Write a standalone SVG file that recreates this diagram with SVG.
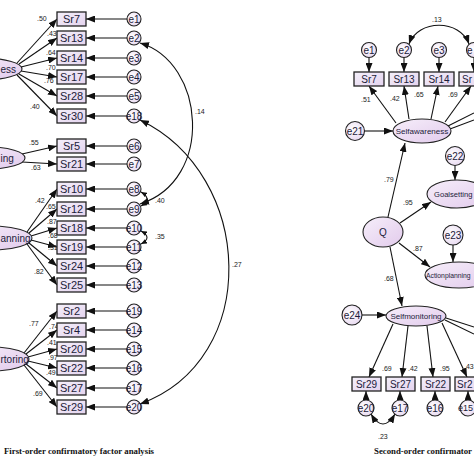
<svg xmlns="http://www.w3.org/2000/svg" width="474" height="474" viewBox="0 0 474 474">
<defs>
<linearGradient id="gBox" x1="0" y1="0" x2="1" y2="1"><stop offset="0" stop-color="#f4f0fa"/><stop offset="1" stop-color="#e4d3ee"/></linearGradient>
<linearGradient id="gLat" x1="0" y1="0" x2="1" y2="1"><stop offset="0" stop-color="#f6eefa"/><stop offset="1" stop-color="#e2cbec"/></linearGradient>
<radialGradient id="gErr" cx="0.4" cy="0.4" r="0.7"><stop offset="0" stop-color="#ffffff"/><stop offset="1" stop-color="#e6d6ef"/></radialGradient>
<marker id="ah" markerUnits="userSpaceOnUse" markerWidth="9" markerHeight="7" refX="9" refY="3.5" orient="auto-start-reverse"><path d="M0,0 L9,3.5 L0,7 z" fill="#111"/></marker>
<marker id="as" markerUnits="userSpaceOnUse" markerWidth="6" markerHeight="5" refX="6" refY="2.5" orient="auto-start-reverse"><path d="M0,0 L6,2.5 L0,5 z" fill="#111"/></marker>
</defs>
<style>
.box{fill:url(#gBox);stroke:#222;stroke-width:1.3}
.lat{fill:url(#gLat);stroke:#222;stroke-width:1.1}
.err{fill:url(#gErr);stroke:#222;stroke-width:1.1}
text{font-family:"Liberation Sans",Arial,sans-serif;fill:#1c1c3a}
.c{text-anchor:middle}
.bt{font-size:11px}
.rb{font-size:10px}
.et{font-size:10px}
.lt{font-size:10px}
.rl{font-size:8px}
.n{font-size:7px;fill:#222}
.cap{font-family:"Liberation Serif","Times New Roman",serif;font-weight:bold;font-size:9px;fill:#111}
.ln{stroke:#111;stroke-width:1.1;fill:none;marker-end:url(#ah)}
.pl{stroke:#111;stroke-width:1.1;fill:none}
.cv{stroke:#111;stroke-width:1.1;fill:none;marker-start:url(#ah);marker-end:url(#ah)}
.cs{stroke:#111;stroke-width:1.1;fill:none;marker-start:url(#as);marker-end:url(#as)}
</style>
<rect width="474" height="474" fill="#fff"/>

<g id="connectors">
<path class="ln" d="M17,63 L57,19"/>
<path class="ln" d="M19,64 L57,38"/>
<path class="ln" d="M21,67 L57,58"/>
<path class="ln" d="M21,71 L57,77"/>
<path class="ln" d="M19,74 L57,96"/>
<path class="ln" d="M17,75 L57,116"/>
<path class="ln" d="M22,154 L57,146"/>
<path class="ln" d="M22,162 L57,164"/>
<path class="ln" d="M27,232 L57,189"/>
<path class="ln" d="M29,233 L57,209"/>
<path class="ln" d="M31,236 L57,228"/>
<path class="ln" d="M31,240 L57,247"/>
<path class="ln" d="M29,243 L57,266"/>
<path class="ln" d="M27,244 L57,285"/>
<path class="ln" d="M24,353 L57,311"/>
<path class="ln" d="M26,354 L57,330"/>
<path class="ln" d="M28,357 L57,349"/>
<path class="ln" d="M28,361 L57,368"/>
<path class="ln" d="M26,364 L57,388"/>
<path class="ln" d="M24,365 L57,407"/>
<path class="ln" d="M127,19 L86,19"/>
<path class="ln" d="M127,38 L86,38"/>
<path class="ln" d="M127,58 L86,58"/>
<path class="ln" d="M127,77 L86,77"/>
<path class="ln" d="M127,96 L86,96"/>
<path class="ln" d="M127,116 L86,116"/>
<path class="ln" d="M127,146 L86,146"/>
<path class="ln" d="M127,164 L86,164"/>
<path class="ln" d="M127,189 L86,189"/>
<path class="ln" d="M127,209 L86,209"/>
<path class="ln" d="M127,228 L86,228"/>
<path class="ln" d="M127,247 L86,247"/>
<path class="ln" d="M127,266 L86,266"/>
<path class="ln" d="M127,285 L86,285"/>
<path class="ln" d="M127,311 L86,311"/>
<path class="ln" d="M127,330 L86,330"/>
<path class="ln" d="M127,349 L86,349"/>
<path class="ln" d="M127,368 L86,368"/>
<path class="ln" d="M127,388 L86,388"/>
<path class="ln" d="M127,407 L86,407"/>
<path class="cv" d="M140,43 C205,62 215,180 140,204"/>
<path class="cs" d="M141,192 Q153,199 141,206"/>
<path class="cs" d="M141,231 Q153,237.5 141,244"/>
<path class="cv" d="M140,120 C255,175 262,360 140,404"/>

<path class="ln" d="M369,57.5 L369,72"/>
<path class="ln" d="M404,57.5 L404,72"/>
<path class="ln" d="M439,57.5 L439,72"/>
<path class="ln" d="M474,57.5 L474,72"/>
<path class="cv" d="M409,44 C418,19 460,19 469,44"/>
<path class="ln" d="M396,123 L369,86"/>
<path class="ln" d="M409,119 L404,86"/>
<path class="ln" d="M431,119 L438,86"/>
<path class="ln" d="M445,122 L471,86"/>
<path class="pl" d="M448,126 L474,113"/>
<path class="pl" d="M450,129 L474,120"/>
<path class="ln" d="M364.5,131 L393,131"/>
<path class="ln" d="M388,217 L405,143"/>
<path class="ln" d="M455,165.5 L455,180"/>
<path class="ln" d="M400,223 L431,202"/>
<path class="ln" d="M453,245 L453,262"/>
<path class="ln" d="M399,243 L430,267"/>
<path class="ln" d="M390,247 L402,306"/>
<path class="ln" d="M362,315 L386,315"/>
<path class="ln" d="M393,324 L369,377"/>
<path class="ln" d="M408,326 L402,377"/>
<path class="ln" d="M427,326 L433,377"/>
<path class="ln" d="M442,323 L467,377"/>
<path class="pl" d="M445,320 L474,334"/>
<path class="pl" d="M446,318 L474,327"/>
<path class="ln" d="M366,400 L366,391"/>
<path class="ln" d="M400,400 L400,391"/>
<path class="ln" d="M435,400 L435,391"/>
<path class="ln" d="M468,400 L468,391"/>
<path class="cv" d="M371,414 Q383,434 395,414"/>
</g>

<g id="coef-labels">
<text class="n" x="37" y="21">.50</text>
<text class="n" x="47" y="36">.43</text>
<text class="n" x="46" y="55">.64</text>
<text class="n" x="46" y="70">.70</text>
<text class="n" x="44" y="83">.76</text>
<text class="n" x="30" y="109">.40</text>
<text class="n" x="29" y="145">.55</text>
<text class="n" x="31" y="170">.63</text>
<text class="n" x="35" y="203">.42</text>
<text class="n" x="46" y="209">.65</text>
<text class="n" x="47" y="224">.87</text>
<text class="n" x="48" y="238">.68</text>
<text class="n" x="48" y="250">.31</text>
<text class="n" x="34" y="274">.82</text>
<text class="n" x="29" y="326">.77</text>
<text class="n" x="49" y="329">.74</text>
<text class="n" x="47" y="345">.41</text>
<text class="n" x="48" y="360">.97</text>
<text class="n" x="46" y="375">.49</text>
<text class="n" x="33" y="396">.69</text>
<text class="n" x="195" y="114">.14</text>
<text class="n" x="155" y="203">.40</text>
<text class="n" x="155" y="239">.35</text>
<text class="n" x="232" y="267">.27</text>
<text class="n" x="361" y="102">.51</text>
<text class="n" x="390" y="101">.42</text>
<text class="n" x="414" y="97">.65</text>
<text class="n" x="448" y="97">.69</text>
<text class="n" x="432" y="22">.13</text>
<text class="n" x="384" y="182">.79</text>
<text class="n" x="403" y="205">.95</text>
<text class="n" x="413" y="251">.87</text>
<text class="n" x="384" y="281">.68</text>
<text class="n" x="382" y="371">.69</text>
<text class="n" x="408" y="371">.42</text>
<text class="n" x="440" y="371">.95</text>
<text class="n" x="464" y="369">.43</text>
<text class="n" x="378" y="439">.23</text>
</g>

<g id="L_Selfawareness"><ellipse class="lat" cx="-18" cy="69" rx="40" ry="11"/><text class="lt" x="0.5" y="72.5">ess</text></g>
<g id="L_Goalsetting"><ellipse class="lat" cx="-12" cy="158" rx="37" ry="11"/><text class="lt" x="0.5" y="161.5">ing</text></g>
<g id="L_Actionplanning"><ellipse class="lat" cx="-8" cy="238" rx="40" ry="12"/><text class="lt" x="0.5" y="241.5">anning</text></g>
<g id="L_Selfmonitoring"><ellipse class="lat" cx="-7" cy="359" rx="36" ry="12"/><text class="lt" x="0.5" y="362.5">rtoring</text></g>

<g id="L_Sr7"><rect class="box" x="57" y="12" width="29" height="14"/><text class="bt c" x="71.5" y="23">Sr7</text></g>
<g id="L_Sr13"><rect class="box" x="57" y="31" width="29" height="14"/><text class="bt c" x="71.5" y="42">Sr13</text></g>
<g id="L_Sr14"><rect class="box" x="57" y="51" width="29" height="14"/><text class="bt c" x="71.5" y="62">Sr14</text></g>
<g id="L_Sr17"><rect class="box" x="57" y="70" width="29" height="14"/><text class="bt c" x="71.5" y="81">Sr17</text></g>
<g id="L_Sr28"><rect class="box" x="57" y="89" width="29" height="14"/><text class="bt c" x="71.5" y="100">Sr28</text></g>
<g id="L_Sr30"><rect class="box" x="57" y="109" width="29" height="14"/><text class="bt c" x="71.5" y="120">Sr30</text></g>
<g id="L_Sr5"><rect class="box" x="57" y="139" width="29" height="14"/><text class="bt c" x="71.5" y="150">Sr5</text></g>
<g id="L_Sr21"><rect class="box" x="57" y="157" width="29" height="14"/><text class="bt c" x="71.5" y="168">Sr21</text></g>
<g id="L_Sr10"><rect class="box" x="57" y="182" width="29" height="14"/><text class="bt c" x="71.5" y="193">Sr10</text></g>
<g id="L_Sr12"><rect class="box" x="57" y="202" width="29" height="14"/><text class="bt c" x="71.5" y="213">Sr12</text></g>
<g id="L_Sr18"><rect class="box" x="57" y="221" width="29" height="14"/><text class="bt c" x="71.5" y="232">Sr18</text></g>
<g id="L_Sr19"><rect class="box" x="57" y="240" width="29" height="14"/><text class="bt c" x="71.5" y="251">Sr19</text></g>
<g id="L_Sr24"><rect class="box" x="57" y="259" width="29" height="14"/><text class="bt c" x="71.5" y="270">Sr24</text></g>
<g id="L_Sr25"><rect class="box" x="57" y="278" width="29" height="14"/><text class="bt c" x="71.5" y="289">Sr25</text></g>
<g id="L_Sr2"><rect class="box" x="57" y="304" width="29" height="14"/><text class="bt c" x="71.5" y="315">Sr2</text></g>
<g id="L_Sr4"><rect class="box" x="57" y="323" width="29" height="14"/><text class="bt c" x="71.5" y="334">Sr4</text></g>
<g id="L_Sr20"><rect class="box" x="57" y="342" width="29" height="14"/><text class="bt c" x="71.5" y="353">Sr20</text></g>
<g id="L_Sr22"><rect class="box" x="57" y="361" width="29" height="14"/><text class="bt c" x="71.5" y="372">Sr22</text></g>
<g id="L_Sr27"><rect class="box" x="57" y="381" width="29" height="14"/><text class="bt c" x="71.5" y="392">Sr27</text></g>
<g id="L_Sr29"><rect class="box" x="57" y="400" width="29" height="14"/><text class="bt c" x="71.5" y="411">Sr29</text></g>

<g id="L_e1"><circle class="err" cx="134" cy="19" r="7"/><text class="et c" x="134" y="22.5">e1</text></g>
<g id="L_e2"><circle class="err" cx="134" cy="38" r="7"/><text class="et c" x="134" y="41.5">e2</text></g>
<g id="L_e3"><circle class="err" cx="134" cy="58" r="7"/><text class="et c" x="134" y="61.5">e3</text></g>
<g id="L_e4"><circle class="err" cx="134" cy="77" r="7"/><text class="et c" x="134" y="80.5">e4</text></g>
<g id="L_e5"><circle class="err" cx="134" cy="96" r="7"/><text class="et c" x="134" y="99.5">e5</text></g>
<g id="L_e18"><circle class="err" cx="134" cy="116" r="7"/><text class="et c" x="134" y="119.5">e18</text></g>
<g id="L_e6"><circle class="err" cx="134" cy="146" r="7"/><text class="et c" x="134" y="149.5">e6</text></g>
<g id="L_e7"><circle class="err" cx="134" cy="164" r="7"/><text class="et c" x="134" y="167.5">e7</text></g>
<g id="L_e8"><circle class="err" cx="134" cy="189" r="7"/><text class="et c" x="134" y="192.5">e8</text></g>
<g id="L_e9"><circle class="err" cx="134" cy="209" r="7"/><text class="et c" x="134" y="212.5">e9</text></g>
<g id="L_e10"><circle class="err" cx="134" cy="228" r="7"/><text class="et c" x="134" y="231.5">e10</text></g>
<g id="L_e11"><circle class="err" cx="134" cy="247" r="7"/><text class="et c" x="134" y="250.5">e11</text></g>
<g id="L_e12"><circle class="err" cx="134" cy="266" r="7"/><text class="et c" x="134" y="269.5">e12</text></g>
<g id="L_e13"><circle class="err" cx="134" cy="285" r="7"/><text class="et c" x="134" y="288.5">e13</text></g>
<g id="L_e19"><circle class="err" cx="134" cy="311" r="7"/><text class="et c" x="134" y="314.5">e19</text></g>
<g id="L_e14"><circle class="err" cx="134" cy="330" r="7"/><text class="et c" x="134" y="333.5">e14</text></g>
<g id="L_e15"><circle class="err" cx="134" cy="349" r="7"/><text class="et c" x="134" y="352.5">e15</text></g>
<g id="L_e16"><circle class="err" cx="134" cy="368" r="7"/><text class="et c" x="134" y="371.5">e16</text></g>
<g id="L_e17"><circle class="err" cx="134" cy="388" r="7"/><text class="et c" x="134" y="391.5">e17</text></g>
<g id="L_e20"><circle class="err" cx="134" cy="407" r="7"/><text class="et c" x="134" y="410.5">e20</text></g>

<g id="R_e1"><circle class="err" cx="369" cy="50" r="7.5"/><text class="et c" x="369" y="53.5">e1</text></g>
<g id="R_e2"><circle class="err" cx="404" cy="50" r="7.5"/><text class="et c" x="404" y="53.5">e2</text></g>
<g id="R_e3"><circle class="err" cx="439" cy="50" r="7.5"/><text class="et c" x="439" y="53.5">e3</text></g>
<g id="R_e4"><circle class="err" cx="474" cy="50" r="7.5"/><text class="et" x="467" y="53.5">e</text></g>
<g id="R_Sr7"><rect class="box" x="354" y="72" width="30" height="14"/><text class="rb c" x="369" y="82.5">Sr7</text></g>
<g id="R_Sr13"><rect class="box" x="389" y="72" width="30" height="14"/><text class="rb c" x="404" y="82.5">Sr13</text></g>
<g id="R_Sr14"><rect class="box" x="424" y="72" width="30" height="14"/><text class="rb c" x="439" y="82.5">Sr14</text></g>
<g id="R_Sr17"><rect class="box" x="459" y="72" width="30" height="14"/><text class="rb" x="462" y="82.5">Sr</text></g>
<g id="R_Selfawareness"><ellipse class="lat" cx="422" cy="131" rx="29" ry="12"/><text class="rl c" x="422" y="134">Selfawareness</text></g>
<g id="R_e21"><circle class="err" cx="355" cy="131" r="9.5"/><text class="et c" x="355" y="134.5">e21</text></g>
<g id="R_e22"><circle class="err" cx="455" cy="156" r="9.5"/><text class="et c" x="455" y="159.5">e22</text></g>
<g id="R_Goalsetting"><ellipse class="lat" cx="457" cy="194" rx="30" ry="14"/><text style="font-size:7.6px" x="434" y="197">Goalsetting</text></g>
<g id="R_Q"><ellipse class="lat" cx="383" cy="232" rx="20" ry="15"/><text class="c" style="font-size:10px" x="383" y="235.5">Q</text></g>
<g id="R_e23"><circle class="err" cx="453" cy="235" r="10"/><text class="et c" x="453" y="238.5">e23</text></g>
<g id="R_Actionplanning"><ellipse class="lat" cx="459" cy="275" rx="34" ry="13"/><text style="font-size:6.8px" x="426" y="277.5">Actionplanning</text></g>
<g id="R_e24"><circle class="err" cx="352" cy="315" r="10"/><text class="et c" x="352" y="318.5">e24</text></g>
<g id="R_Selfmonitoring"><ellipse class="lat" cx="416" cy="316" rx="30" ry="10"/><text class="rl c" x="416" y="319">Selfmonitoring</text></g>
<g id="R_Sr29"><rect class="box" x="352" y="377" width="29" height="14"/><text class="rb c" x="366.5" y="387.5">Sr29</text></g>
<g id="R_Sr27"><rect class="box" x="386" y="377" width="29" height="14"/><text class="rb c" x="400.5" y="387.5">Sr27</text></g>
<g id="R_Sr22"><rect class="box" x="421" y="377" width="29" height="14"/><text class="rb c" x="435.5" y="387.5">Sr22</text></g>
<g id="R_Sr20"><rect class="box" x="455" y="377" width="29" height="14"/><text class="rb" x="457" y="387.5">Sr2</text></g>
<g id="R_e20"><circle class="err" cx="366" cy="408" r="8"/><text class="et c" x="366" y="411.5">e20</text></g>
<g id="R_e17"><circle class="err" cx="400" cy="408" r="8"/><text class="et c" x="400" y="411.5">e17</text></g>
<g id="R_e16"><circle class="err" cx="435" cy="408" r="8"/><text class="et c" x="435" y="411.5">e16</text></g>
<g id="R_e15"><circle class="err" cx="468" cy="408" r="8"/><text class="c" style="font-size:9px" x="465.5" y="411.2">e15</text></g>

<g id="captions">
<text class="cap" x="4" y="454" textLength="150" lengthAdjust="spacingAndGlyphs">First-order confirmatory factor analysis</text>
<text class="cap" x="374" y="454" textLength="98" lengthAdjust="spacingAndGlyphs">Second-order confirmator</text>
</g>
</svg>
